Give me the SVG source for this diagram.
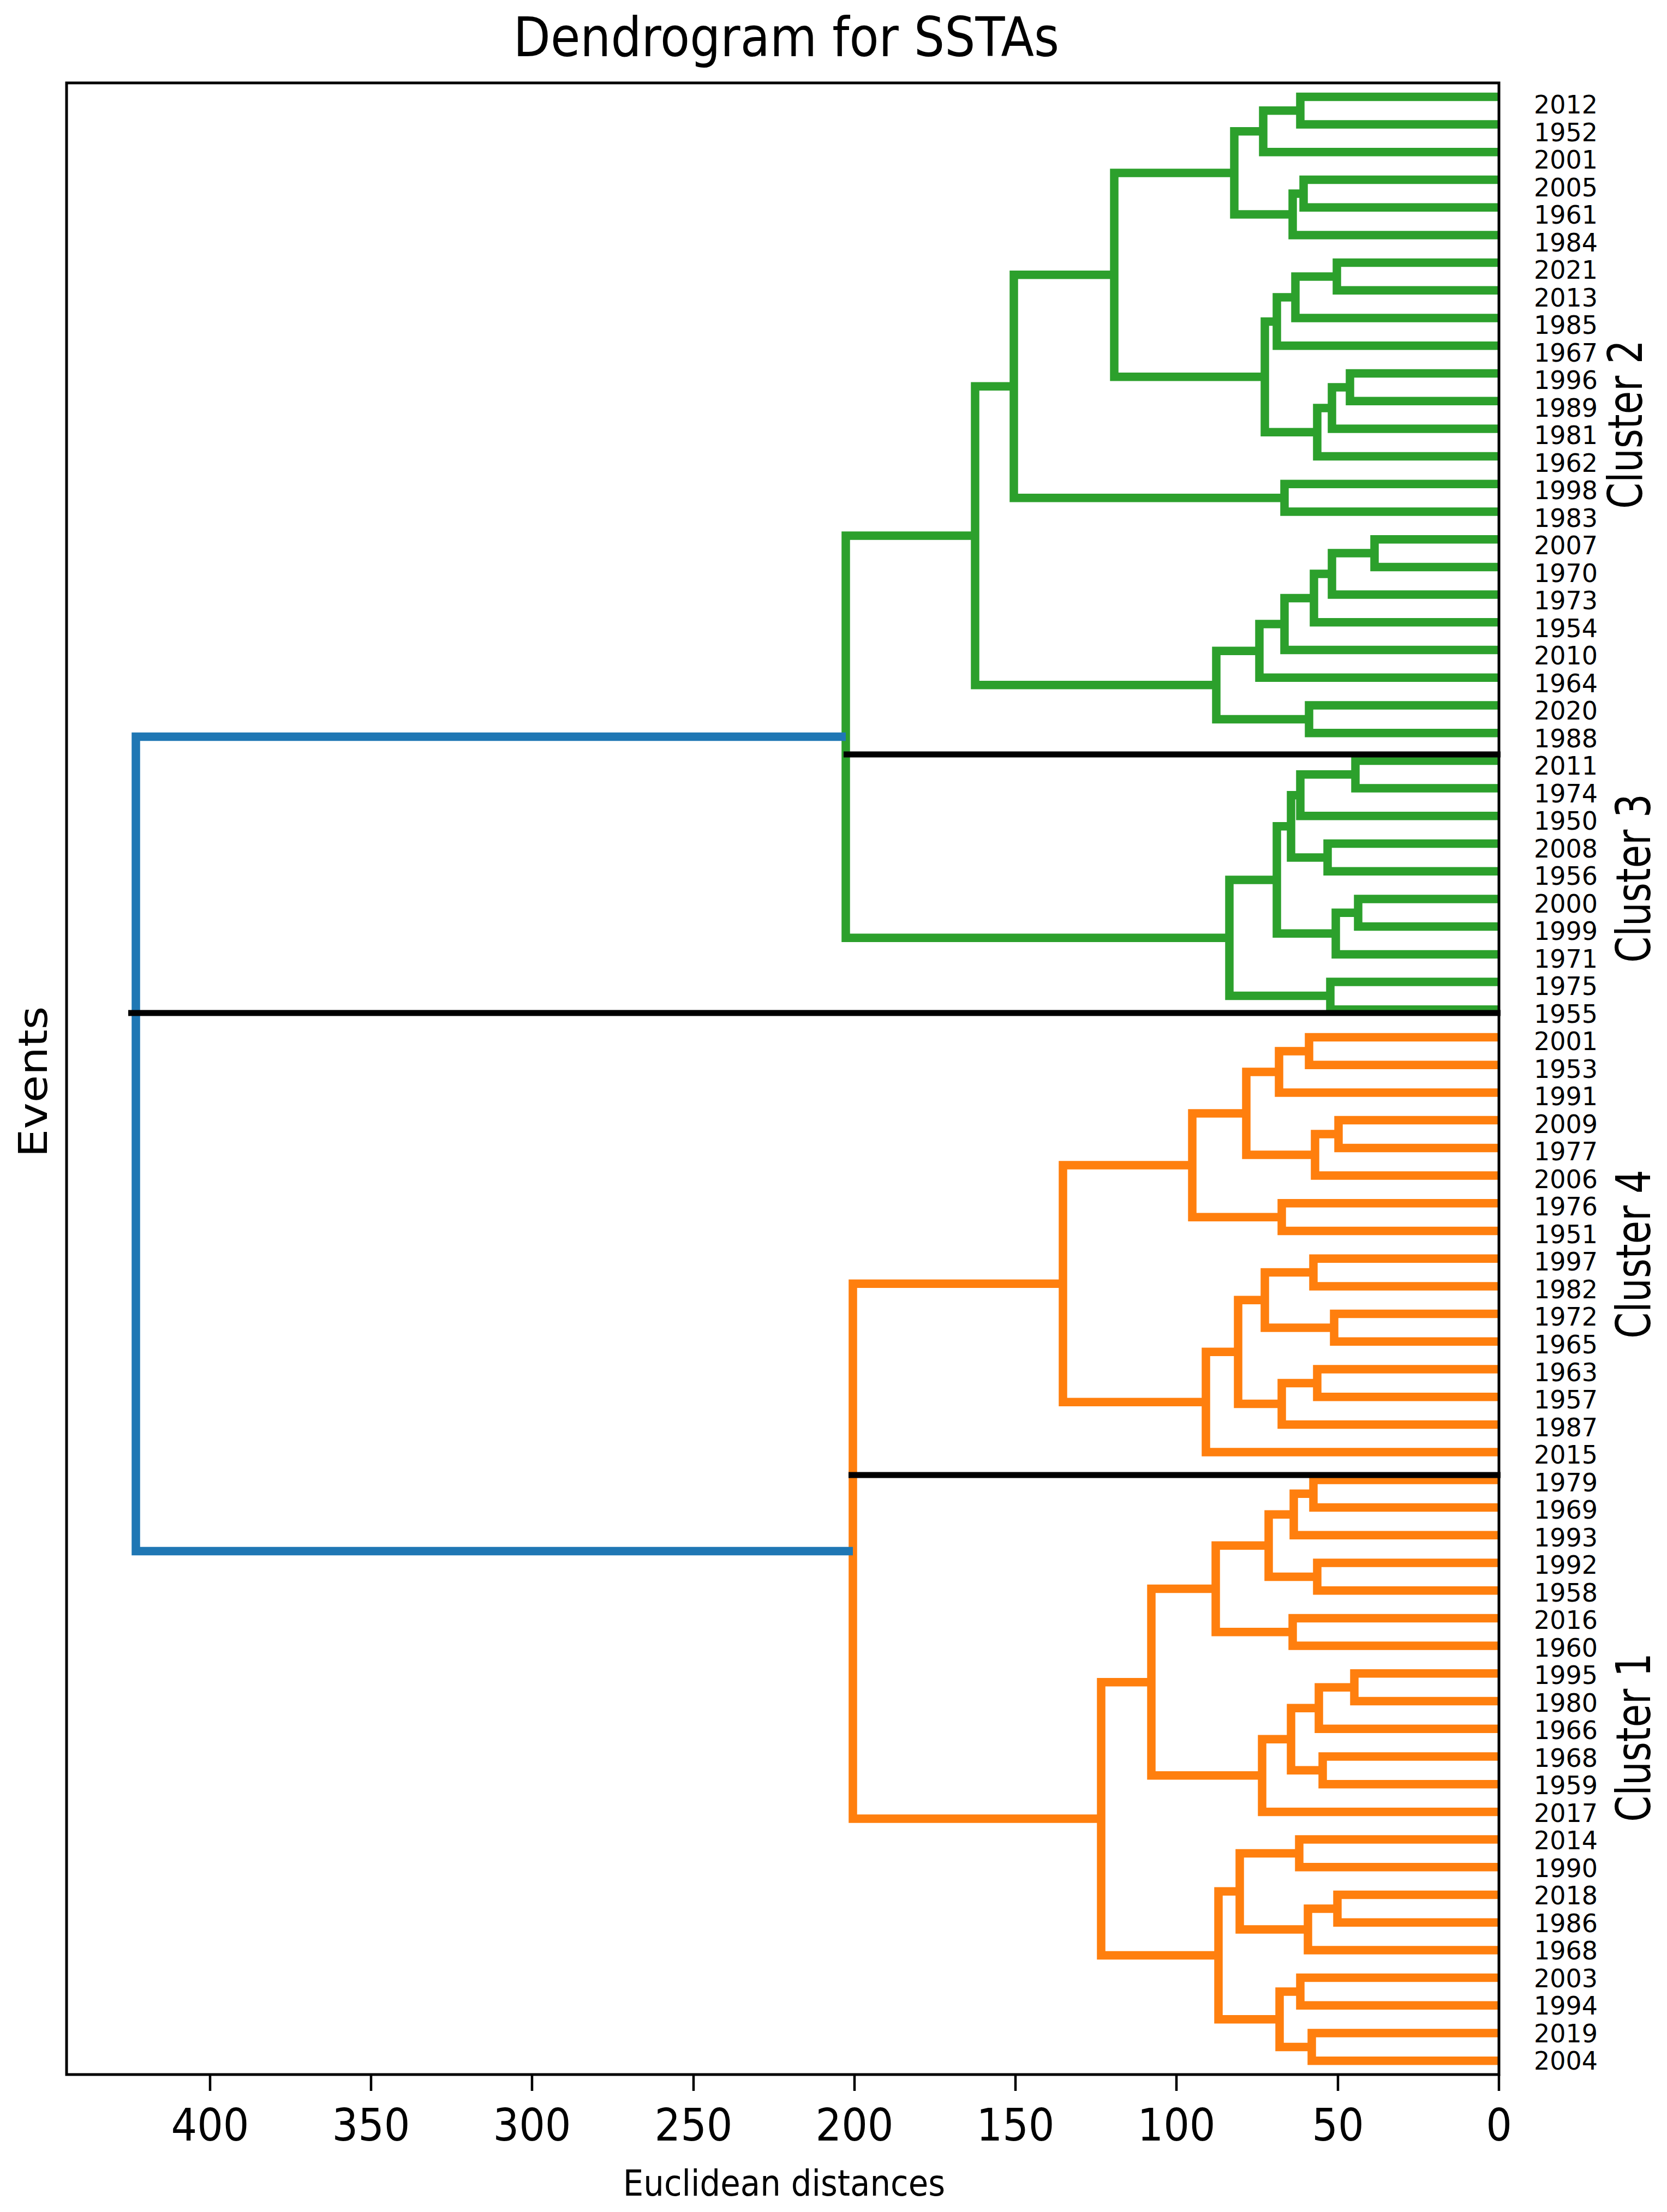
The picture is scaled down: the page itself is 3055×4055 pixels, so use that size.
<svg xmlns="http://www.w3.org/2000/svg" width="3055" height="4055" viewBox="0 0 3055 4055">
<style>
.link{fill:none;stroke-width:15.5;stroke-linejoin:miter;stroke-linecap:butt}
.g{stroke:#2ca02c}
.o{stroke:#ff7f0e}
.b{stroke:#1f77b4}
.cut{stroke:#000;stroke-width:11;fill:none}
.spine{stroke:#000;stroke-width:5;fill:none}
.tick{stroke:#000;stroke-width:4.5}
text{font-family:"DejaVu Sans","Liberation Sans",sans-serif;fill:#000}
.leaf text{font-size:46px}
.tl{font-size:82px;text-anchor:middle}
.cl{font-size:87px;text-anchor:middle}
</style>
<rect x="0" y="0" width="3055" height="4055" fill="#fff"/>

<g id="connectors">
<g id="links-cluster2-3" class="link g">
<path d="M2747,177.4H2383V228.1H2747"/>
<path d="M2383,202.8H2315V278.8H2747"/>
<path d="M2747,329.5H2389V380.2H2747"/>
<path d="M2389,354.9H2369V430.9H2747"/>
<path d="M2315,240.8H2262V392.9H2369"/>
<path d="M2747,481.6H2450V532.3H2747"/>
<path d="M2450,507H2374V583H2747"/>
<path d="M2374,545H2340V633.7H2747"/>
<path d="M2747,684.5H2474V735.2H2747"/>
<path d="M2474,709.9H2441V785.9H2747"/>
<path d="M2441,747.9H2414V836.6H2747"/>
<path d="M2340,589.4H2318V792.3H2414"/>
<path d="M2262,316.9H2042V690.8H2318"/>
<path d="M2747,887.3H2354V938H2747"/>
<path d="M2042,503.8H1858V912.7H2354"/>
<path d="M2747,988.7H2519V1039.4H2747"/>
<path d="M2519,1014.1H2441V1090.1H2747"/>
<path d="M2441,1052.1H2408V1140.8H2747"/>
<path d="M2408,1096.5H2354V1191.6H2747"/>
<path d="M2354,1144H2308V1242.3H2747"/>
<path d="M2747,1293H2399V1343.7H2747"/>
<path d="M2308,1193.2H2229V1318.4H2399"/>
<path d="M1858,708.2H1787V1255.8H2229"/>
<path d="M2747,1394.4H2484V1445.1H2747"/>
<path d="M2484,1419.8H2383V1495.8H2747"/>
<path d="M2747,1546.5H2433V1597.2H2747"/>
<path d="M2383,1457.8H2366V1571.9H2433"/>
<path d="M2747,1647.9H2489V1698.6H2747"/>
<path d="M2489,1673.3H2448V1749.4H2747"/>
<path d="M2366,1514.8H2340V1711.3H2448"/>
<path d="M2747,1800.1H2438V1850.8H2747"/>
<path d="M2340,1613.1H2253V1825.5H2438"/>
<path d="M1787,982H1550V1719.3H2253"/>
</g>
<g id="links-cluster4-1" class="link o">
<path d="M2747,1901.5H2399V1952.2H2747"/>
<path d="M2399,1926.9H2344V2002.9H2747"/>
<path d="M2747,2053.6H2453V2104.4H2747"/>
<path d="M2453,2079H2410V2155.1H2747"/>
<path d="M2344,1964.9H2284V2117.1H2410"/>
<path d="M2747,2205.8H2349V2256.5H2747"/>
<path d="M2284,2041H2185V2231.2H2349"/>
<path d="M2747,2307.2H2407V2357.9H2747"/>
<path d="M2747,2408.6H2445V2459.3H2747"/>
<path d="M2407,2332.6H2318V2434H2445"/>
<path d="M2747,2510H2414V2560.7H2747"/>
<path d="M2414,2535.4H2349V2611.4H2747"/>
<path d="M2318,2383.3H2269V2573.4H2349"/>
<path d="M2269,2478.3H2210V2662.1H2747"/>
<path d="M2185,2136.1H1948V2570.2H2210"/>
<path d="M2747,2712.9H2407V2763.6H2747"/>
<path d="M2407,2738.3H2371V2814.3H2747"/>
<path d="M2747,2865H2414V2915.7H2747"/>
<path d="M2371,2776.3H2325V2890.4H2414"/>
<path d="M2747,2966.4H2369V3017.1H2747"/>
<path d="M2325,2833.3H2228V2991.8H2369"/>
<path d="M2747,3067.8H2482V3118.5H2747"/>
<path d="M2482,3093.2H2417V3169.2H2747"/>
<path d="M2747,3219.9H2424V3270.7H2747"/>
<path d="M2417,3131.2H2366V3245.3H2424"/>
<path d="M2366,3188.3H2313V3321.4H2747"/>
<path d="M2228,2912.5H2110V3254.8H2313"/>
<path d="M2747,3372.1H2381V3422.8H2747"/>
<path d="M2747,3473.5H2451V3524.2H2747"/>
<path d="M2451,3498.9H2397V3574.9H2747"/>
<path d="M2381,3397.5H2272V3536.9H2397"/>
<path d="M2747,3625.6H2383V3676.3H2747"/>
<path d="M2747,3727H2404V3777.7H2747"/>
<path d="M2383,3651H2345V3752.4H2404"/>
<path d="M2272,3467.2H2233V3701.7H2345"/>
<path d="M2110,3083.7H2018V3584.4H2233"/>
<path d="M1948,2353.2H1563V3334H2018"/>
</g>
<g id="link-root" class="link b">
<path d="M1550,1350.6H249V2843.6H1563"/>
</g>
<g id="cluster-cuts" class="cut">
<path d="M1546,1383H2750"/>
<path d="M235,1857H2750"/>
<path d="M1555,2704H2750"/>
</g>
</g>

<g id="axes">
<rect class="spine" x="122" y="152" width="2625" height="3651"/>
<g class="tick">
<path d="M385,3803V3833M680,3803V3833M975,3803V3833M1271,3803V3833M1566,3803V3833M1861,3803V3833M2156,3803V3833M2452,3803V3833M2747,3803V3833"/>
</g>
<g id="tick-labels" class="tl">
<text transform="translate(385,3924) scale(0.915,1)">400</text>
<text transform="translate(680,3924) scale(0.915,1)">350</text>
<text transform="translate(975,3924) scale(0.915,1)">300</text>
<text transform="translate(1271,3924) scale(0.915,1)">250</text>
<text transform="translate(1566,3924) scale(0.915,1)">200</text>
<text transform="translate(1861,3924) scale(0.915,1)">150</text>
<text transform="translate(2156,3924) scale(0.915,1)">100</text>
<text transform="translate(2452,3924) scale(0.915,1)">50</text>
<text transform="translate(2747,3924) scale(0.915,1)">0</text>
</g>
<text id="title" transform="translate(1441,103) scale(0.885,1)" font-size="100" text-anchor="middle">Dendrogram for SSTAs</text>
<text id="xlabel" transform="translate(1437,4025) scale(0.9,1)" font-size="66" text-anchor="middle">Euclidean distances</text>
<text id="ylabel" transform="translate(86,1983) rotate(-90) scale(1.12,1)" font-size="73" text-anchor="middle">Events</text>
</g>

<g class="leaf">
<g id="leaf-00"><text x="2811" y="208.0">2012</text></g>
<g id="leaf-01"><text x="2811" y="258.5">1952</text></g>
<g id="leaf-02"><text x="2811" y="309.0">2001</text></g>
<g id="leaf-03"><text x="2811" y="359.5">2005</text></g>
<g id="leaf-04"><text x="2811" y="410.0">1961</text></g>
<g id="leaf-05"><text x="2811" y="460.6">1984</text></g>
<g id="leaf-06"><text x="2811" y="511.1">2021</text></g>
<g id="leaf-07"><text x="2811" y="561.6">2013</text></g>
<g id="leaf-08"><text x="2811" y="612.1">1985</text></g>
<g id="leaf-09"><text x="2811" y="662.6">1967</text></g>
<g id="leaf-10"><text x="2811" y="713.1">1996</text></g>
<g id="leaf-11"><text x="2811" y="763.6">1989</text></g>
<g id="leaf-12"><text x="2811" y="814.1">1981</text></g>
<g id="leaf-13"><text x="2811" y="864.6">1962</text></g>
<g id="leaf-14"><text x="2811" y="915.1">1998</text></g>
<g id="leaf-15"><text x="2811" y="965.7">1983</text></g>
<g id="leaf-16"><text x="2811" y="1016.2">2007</text></g>
<g id="leaf-17"><text x="2811" y="1066.7">1970</text></g>
<g id="leaf-18"><text x="2811" y="1117.2">1973</text></g>
<g id="leaf-19"><text x="2811" y="1167.7">1954</text></g>
<g id="leaf-20"><text x="2811" y="1218.2">2010</text></g>
<g id="leaf-21"><text x="2811" y="1268.7">1964</text></g>
<g id="leaf-22"><text x="2811" y="1319.2">2020</text></g>
<g id="leaf-23"><text x="2811" y="1369.7">1988</text></g>
<g id="leaf-24"><text x="2811" y="1420.2">2011</text></g>
<g id="leaf-25"><text x="2811" y="1470.8">1974</text></g>
<g id="leaf-26"><text x="2811" y="1521.3">1950</text></g>
<g id="leaf-27"><text x="2811" y="1571.8">2008</text></g>
<g id="leaf-28"><text x="2811" y="1622.3">1956</text></g>
<g id="leaf-29"><text x="2811" y="1672.8">2000</text></g>
<g id="leaf-30"><text x="2811" y="1723.3">1999</text></g>
<g id="leaf-31"><text x="2811" y="1773.8">1971</text></g>
<g id="leaf-32"><text x="2811" y="1824.3">1975</text></g>
<g id="leaf-33"><text x="2811" y="1874.8">1955</text></g>
<g id="leaf-34"><text x="2811" y="1925.3">2001</text></g>
<g id="leaf-35"><text x="2811" y="1975.9">1953</text></g>
<g id="leaf-36"><text x="2811" y="2026.4">1991</text></g>
<g id="leaf-37"><text x="2811" y="2076.9">2009</text></g>
<g id="leaf-38"><text x="2811" y="2127.4">1977</text></g>
<g id="leaf-39"><text x="2811" y="2177.9">2006</text></g>
<g id="leaf-40"><text x="2811" y="2228.4">1976</text></g>
<g id="leaf-41"><text x="2811" y="2278.9">1951</text></g>
<g id="leaf-42"><text x="2811" y="2329.4">1997</text></g>
<g id="leaf-43"><text x="2811" y="2379.9">1982</text></g>
<g id="leaf-44"><text x="2811" y="2430.4">1972</text></g>
<g id="leaf-45"><text x="2811" y="2481.0">1965</text></g>
<g id="leaf-46"><text x="2811" y="2531.5">1963</text></g>
<g id="leaf-47"><text x="2811" y="2582.0">1957</text></g>
<g id="leaf-48"><text x="2811" y="2632.5">1987</text></g>
<g id="leaf-49"><text x="2811" y="2683.0">2015</text></g>
<g id="leaf-50"><text x="2811" y="2733.5">1979</text></g>
<g id="leaf-51"><text x="2811" y="2784.0">1969</text></g>
<g id="leaf-52"><text x="2811" y="2834.5">1993</text></g>
<g id="leaf-53"><text x="2811" y="2885.0">1992</text></g>
<g id="leaf-54"><text x="2811" y="2935.5">1958</text></g>
<g id="leaf-55"><text x="2811" y="2986.1">2016</text></g>
<g id="leaf-56"><text x="2811" y="3036.6">1960</text></g>
<g id="leaf-57"><text x="2811" y="3087.1">1995</text></g>
<g id="leaf-58"><text x="2811" y="3137.6">1980</text></g>
<g id="leaf-59"><text x="2811" y="3188.1">1966</text></g>
<g id="leaf-60"><text x="2811" y="3238.6">1968</text></g>
<g id="leaf-61"><text x="2811" y="3289.1">1959</text></g>
<g id="leaf-62"><text x="2811" y="3339.6">2017</text></g>
<g id="leaf-63"><text x="2811" y="3390.1">2014</text></g>
<g id="leaf-64"><text x="2811" y="3440.6">1990</text></g>
<g id="leaf-65"><text x="2811" y="3491.2">2018</text></g>
<g id="leaf-66"><text x="2811" y="3541.7">1986</text></g>
<g id="leaf-67"><text x="2811" y="3592.2">1968</text></g>
<g id="leaf-68"><text x="2811" y="3642.7">2003</text></g>
<g id="leaf-69"><text x="2811" y="3693.2">1994</text></g>
<g id="leaf-70"><text x="2811" y="3743.7">2019</text></g>
<g id="leaf-71"><text x="2811" y="3794.2">2004</text></g>
</g>

<g id="cluster-labels" class="cl">
<g id="cluster-2"><text transform="translate(3009,778) rotate(-90) scale(0.79,1)">Cluster 2</text></g>
<g id="cluster-3"><text transform="translate(3024,1610) rotate(-90) scale(0.79,1)">Cluster 3</text></g>
<g id="cluster-4"><text transform="translate(3024,2299) rotate(-90) scale(0.79,1)">Cluster 4</text></g>
<g id="cluster-1"><text transform="translate(3024,3185) rotate(-90) scale(0.79,1)">Cluster 1</text></g>
</g>
</svg>
